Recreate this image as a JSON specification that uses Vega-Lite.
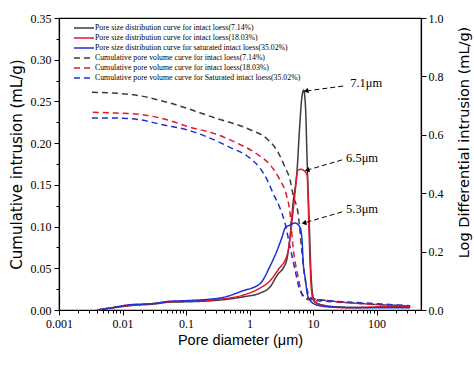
{
  "$schema": "https://vega.github.io/schema/vega-lite/v6.json",
  "width": 362,
  "height": 292,
  "autosize": {"type": "none"},
  "padding": {"left": 59, "top": 18, "right": 53, "bottom": 57},
  "background": "white",
  "config": {
    "view": {"stroke": "black", "strokeWidth": 1.2},
    "font": "Liberation Serif",
    "style": {"guide-label": {"font": "Liberation Serif", "fontSize": 12, "fill": "black"}},
    "axis": {
      "grid": false,
      "domainColor": "black",
      "domainWidth": 1.2,
      "tickColor": "black",
      "tickWidth": 1,
      "labelFont": "Liberation Serif",
      "labelFontSize": 12,
      "labelColor": "black",
      "titleFont": "Liberation Sans",
      "titleFontSize": 15,
      "titleFontWeight": "normal",
      "titleColor": "black",
      "labelOverlap": false,
      "labelFlush": false
    }
  },
  "datasets": {
    "cum": [
      {"series": "Cumulative pore volume curve for intact loess(7.14%)", "d": 0.0033, "v": 0.261},
      {"series": "Cumulative pore volume curve for intact loess(7.14%)", "d": 0.0146, "v": 0.258},
      {"series": "Cumulative pore volume curve for intact loess(7.14%)", "d": 0.056, "v": 0.248},
      {"series": "Cumulative pore volume curve for intact loess(7.14%)", "d": 0.266, "v": 0.231},
      {"series": "Cumulative pore volume curve for intact loess(7.14%)", "d": 1.02, "v": 0.216},
      {"series": "Cumulative pore volume curve for intact loess(7.14%)", "d": 1.89, "v": 0.205},
      {"series": "Cumulative pore volume curve for intact loess(7.14%)", "d": 2.81, "v": 0.189},
      {"series": "Cumulative pore volume curve for intact loess(7.14%)", "d": 3.62, "v": 0.171},
      {"series": "Cumulative pore volume curve for intact loess(7.14%)", "d": 4.34, "v": 0.156},
      {"series": "Cumulative pore volume curve for intact loess(7.14%)", "d": 4.84, "v": 0.138},
      {"series": "Cumulative pore volume curve for intact loess(7.14%)", "d": 5.8, "v": 0.116},
      {"series": "Cumulative pore volume curve for intact loess(7.14%)", "d": 6.97, "v": 0.056},
      {"series": "Cumulative pore volume curve for intact loess(7.14%)", "d": 8.05, "v": 0.024},
      {"series": "Cumulative pore volume curve for intact loess(7.14%)", "d": 9.6, "v": 0.014},
      {"series": "Cumulative pore volume curve for intact loess(7.14%)", "d": 18.5, "v": 0.011},
      {"series": "Cumulative pore volume curve for intact loess(7.14%)", "d": 79, "v": 0.007},
      {"series": "Cumulative pore volume curve for intact loess(7.14%)", "d": 337, "v": 0.005},

      {"series": "Cumulative pore volume curve for intact loess(18.03%)", "d": 0.0034, "v": 0.237},
      {"series": "Cumulative pore volume curve for intact loess(18.03%)", "d": 0.0082, "v": 0.236},
      {"series": "Cumulative pore volume curve for intact loess(18.03%)", "d": 0.021, "v": 0.234},
      {"series": "Cumulative pore volume curve for intact loess(18.03%)", "d": 0.05, "v": 0.228},
      {"series": "Cumulative pore volume curve for intact loess(18.03%)", "d": 0.116, "v": 0.219},
      {"series": "Cumulative pore volume curve for intact loess(18.03%)", "d": 0.266, "v": 0.212},
      {"series": "Cumulative pore volume curve for intact loess(18.03%)", "d": 0.635, "v": 0.2},
      {"series": "Cumulative pore volume curve for intact loess(18.03%)", "d": 1.31, "v": 0.187},
      {"series": "Cumulative pore volume curve for intact loess(18.03%)", "d": 2.1, "v": 0.174},
      {"series": "Cumulative pore volume curve for intact loess(18.03%)", "d": 3.0, "v": 0.156},
      {"series": "Cumulative pore volume curve for intact loess(18.03%)", "d": 3.8, "v": 0.138},
      {"series": "Cumulative pore volume curve for intact loess(18.03%)", "d": 4.34, "v": 0.116},
      {"series": "Cumulative pore volume curve for intact loess(18.03%)", "d": 4.84, "v": 0.0755},
      {"series": "Cumulative pore volume curve for intact loess(18.03%)", "d": 5.8, "v": 0.04},
      {"series": "Cumulative pore volume curve for intact loess(18.03%)", "d": 6.97, "v": 0.0156},
      {"series": "Cumulative pore volume curve for intact loess(18.03%)", "d": 8.9, "v": 0.012},
      {"series": "Cumulative pore volume curve for intact loess(18.03%)", "d": 18.5, "v": 0.01},
      {"series": "Cumulative pore volume curve for intact loess(18.03%)", "d": 79, "v": 0.007},
      {"series": "Cumulative pore volume curve for intact loess(18.03%)", "d": 337, "v": 0.005},

      {"series": "Cumulative pore volume curve for Saturated intact loess(35.02%)", "d": 0.0033, "v": 0.23},
      {"series": "Cumulative pore volume curve for Saturated intact loess(35.02%)", "d": 0.0091, "v": 0.23},
      {"series": "Cumulative pore volume curve for Saturated intact loess(35.02%)", "d": 0.0188, "v": 0.228},
      {"series": "Cumulative pore volume curve for Saturated intact loess(35.02%)", "d": 0.043, "v": 0.222},
      {"series": "Cumulative pore volume curve for Saturated intact loess(35.02%)", "d": 0.104, "v": 0.216},
      {"series": "Cumulative pore volume curve for Saturated intact loess(35.02%)", "d": 0.239, "v": 0.206},
      {"series": "Cumulative pore volume curve for Saturated intact loess(35.02%)", "d": 0.49, "v": 0.195},
      {"series": "Cumulative pore volume curve for Saturated intact loess(35.02%)", "d": 1.02, "v": 0.182},
      {"series": "Cumulative pore volume curve for Saturated intact loess(35.02%)", "d": 1.46, "v": 0.17},
      {"series": "Cumulative pore volume curve for Saturated intact loess(35.02%)", "d": 1.89, "v": 0.156},
      {"series": "Cumulative pore volume curve for Saturated intact loess(35.02%)", "d": 2.34, "v": 0.14},
      {"series": "Cumulative pore volume curve for Saturated intact loess(35.02%)", "d": 3.02, "v": 0.122},
      {"series": "Cumulative pore volume curve for Saturated intact loess(35.02%)", "d": 3.62, "v": 0.104},
      {"series": "Cumulative pore volume curve for Saturated intact loess(35.02%)", "d": 4.34, "v": 0.0755},
      {"series": "Cumulative pore volume curve for Saturated intact loess(35.02%)", "d": 5.2, "v": 0.048},
      {"series": "Cumulative pore volume curve for Saturated intact loess(35.02%)", "d": 6.2, "v": 0.024},
      {"series": "Cumulative pore volume curve for Saturated intact loess(35.02%)", "d": 8.05, "v": 0.014},
      {"series": "Cumulative pore volume curve for Saturated intact loess(35.02%)", "d": 18.5, "v": 0.011},
      {"series": "Cumulative pore volume curve for Saturated intact loess(35.02%)", "d": 79, "v": 0.008},
      {"series": "Cumulative pore volume curve for Saturated intact loess(35.02%)", "d": 337, "v": 0.005}
    ],
    "dist": [
      {"series": "Pore size distribution curve for intact loess(7.14%)", "d": 0.004, "v": 0.0},
      {"series": "Pore size distribution curve for intact loess(7.14%)", "d": 0.006, "v": 0.005},
      {"series": "Pore size distribution curve for intact loess(7.14%)", "d": 0.013, "v": 0.015},
      {"series": "Pore size distribution curve for intact loess(7.14%)", "d": 0.03, "v": 0.02},
      {"series": "Pore size distribution curve for intact loess(7.14%)", "d": 0.056, "v": 0.027},
      {"series": "Pore size distribution curve for intact loess(7.14%)", "d": 0.1, "v": 0.028},
      {"series": "Pore size distribution curve for intact loess(7.14%)", "d": 0.34, "v": 0.034},
      {"series": "Pore size distribution curve for intact loess(7.14%)", "d": 0.79, "v": 0.045},
      {"series": "Pore size distribution curve for intact loess(7.14%)", "d": 1.46, "v": 0.058},
      {"series": "Pore size distribution curve for intact loess(7.14%)", "d": 2.1, "v": 0.079},
      {"series": "Pore size distribution curve for intact loess(7.14%)", "d": 2.8, "v": 0.123},
      {"series": "Pore size distribution curve for intact loess(7.14%)", "d": 3.4, "v": 0.144},
      {"series": "Pore size distribution curve for intact loess(7.14%)", "d": 3.9, "v": 0.178},
      {"series": "Pore size distribution curve for intact loess(7.14%)", "d": 4.34, "v": 0.25},
      {"series": "Pore size distribution curve for intact loess(7.14%)", "d": 4.84, "v": 0.366},
      {"series": "Pore size distribution curve for intact loess(7.14%)", "d": 5.6, "v": 0.479},
      {"series": "Pore size distribution curve for intact loess(7.14%)", "d": 6.1, "v": 0.616},
      {"series": "Pore size distribution curve for intact loess(7.14%)", "d": 6.6, "v": 0.72},
      {"series": "Pore size distribution curve for intact loess(7.14%)", "d": 7.1, "v": 0.753},
      {"series": "Pore size distribution curve for intact loess(7.14%)", "d": 7.6, "v": 0.695},
      {"series": "Pore size distribution curve for intact loess(7.14%)", "d": 8.05, "v": 0.514},
      {"series": "Pore size distribution curve for intact loess(7.14%)", "d": 8.7, "v": 0.3},
      {"series": "Pore size distribution curve for intact loess(7.14%)", "d": 9.3, "v": 0.12},
      {"series": "Pore size distribution curve for intact loess(7.14%)", "d": 9.9, "v": 0.05},
      {"series": "Pore size distribution curve for intact loess(7.14%)", "d": 11, "v": 0.025},
      {"series": "Pore size distribution curve for intact loess(7.14%)", "d": 20, "v": 0.012},
      {"series": "Pore size distribution curve for intact loess(7.14%)", "d": 50, "v": 0.008},
      {"series": "Pore size distribution curve for intact loess(7.14%)", "d": 100, "v": 0.01},
      {"series": "Pore size distribution curve for intact loess(7.14%)", "d": 200, "v": 0.012},
      {"series": "Pore size distribution curve for intact loess(7.14%)", "d": 337, "v": 0.01},

      {"series": "Pore size distribution curve for intact loess(18.03%)", "d": 0.004, "v": 0.0},
      {"series": "Pore size distribution curve for intact loess(18.03%)", "d": 0.006, "v": 0.006},
      {"series": "Pore size distribution curve for intact loess(18.03%)", "d": 0.013, "v": 0.015},
      {"series": "Pore size distribution curve for intact loess(18.03%)", "d": 0.03, "v": 0.022},
      {"series": "Pore size distribution curve for intact loess(18.03%)", "d": 0.056, "v": 0.028},
      {"series": "Pore size distribution curve for intact loess(18.03%)", "d": 0.1, "v": 0.03},
      {"series": "Pore size distribution curve for intact loess(18.03%)", "d": 0.34, "v": 0.037},
      {"series": "Pore size distribution curve for intact loess(18.03%)", "d": 0.79, "v": 0.051},
      {"series": "Pore size distribution curve for intact loess(18.03%)", "d": 1.46, "v": 0.075},
      {"series": "Pore size distribution curve for intact loess(18.03%)", "d": 2.1, "v": 0.1},
      {"series": "Pore size distribution curve for intact loess(18.03%)", "d": 2.8, "v": 0.137},
      {"series": "Pore size distribution curve for intact loess(18.03%)", "d": 3.9, "v": 0.188},
      {"series": "Pore size distribution curve for intact loess(18.03%)", "d": 4.34, "v": 0.247},
      {"series": "Pore size distribution curve for intact loess(18.03%)", "d": 4.67, "v": 0.308},
      {"series": "Pore size distribution curve for intact loess(18.03%)", "d": 5.2, "v": 0.4},
      {"series": "Pore size distribution curve for intact loess(18.03%)", "d": 5.6, "v": 0.469},
      {"series": "Pore size distribution curve for intact loess(18.03%)", "d": 5.8, "v": 0.479},
      {"series": "Pore size distribution curve for intact loess(18.03%)", "d": 6.5, "v": 0.482},
      {"series": "Pore size distribution curve for intact loess(18.03%)", "d": 7.0, "v": 0.479},
      {"series": "Pore size distribution curve for intact loess(18.03%)", "d": 8.05, "v": 0.462},
      {"series": "Pore size distribution curve for intact loess(18.03%)", "d": 8.3, "v": 0.4},
      {"series": "Pore size distribution curve for intact loess(18.03%)", "d": 8.6, "v": 0.28},
      {"series": "Pore size distribution curve for intact loess(18.03%)", "d": 9.0, "v": 0.15},
      {"series": "Pore size distribution curve for intact loess(18.03%)", "d": 9.5, "v": 0.06},
      {"series": "Pore size distribution curve for intact loess(18.03%)", "d": 10.3, "v": 0.03},
      {"series": "Pore size distribution curve for intact loess(18.03%)", "d": 15, "v": 0.015},
      {"series": "Pore size distribution curve for intact loess(18.03%)", "d": 30, "v": 0.008},
      {"series": "Pore size distribution curve for intact loess(18.03%)", "d": 100, "v": 0.01},
      {"series": "Pore size distribution curve for intact loess(18.03%)", "d": 200, "v": 0.015},
      {"series": "Pore size distribution curve for intact loess(18.03%)", "d": 337, "v": 0.01},

      {"series": "Pore size distribution curve for saturated intact loess(35.02%)", "d": 0.004, "v": 0.0},
      {"series": "Pore size distribution curve for saturated intact loess(35.02%)", "d": 0.006, "v": 0.006},
      {"series": "Pore size distribution curve for saturated intact loess(35.02%)", "d": 0.013, "v": 0.018},
      {"series": "Pore size distribution curve for saturated intact loess(35.02%)", "d": 0.03, "v": 0.022},
      {"series": "Pore size distribution curve for saturated intact loess(35.02%)", "d": 0.056, "v": 0.03},
      {"series": "Pore size distribution curve for saturated intact loess(35.02%)", "d": 0.1, "v": 0.032},
      {"series": "Pore size distribution curve for saturated intact loess(35.02%)", "d": 0.34, "v": 0.041},
      {"series": "Pore size distribution curve for saturated intact loess(35.02%)", "d": 0.79, "v": 0.066},
      {"series": "Pore size distribution curve for saturated intact loess(35.02%)", "d": 1.46, "v": 0.09},
      {"series": "Pore size distribution curve for saturated intact loess(35.02%)", "d": 2.1, "v": 0.15},
      {"series": "Pore size distribution curve for saturated intact loess(35.02%)", "d": 2.67, "v": 0.2},
      {"series": "Pore size distribution curve for saturated intact loess(35.02%)", "d": 3.25, "v": 0.25},
      {"series": "Pore size distribution curve for saturated intact loess(35.02%)", "d": 3.62, "v": 0.28},
      {"series": "Pore size distribution curve for saturated intact loess(35.02%)", "d": 4.34, "v": 0.291},
      {"series": "Pore size distribution curve for saturated intact loess(35.02%)", "d": 5.2, "v": 0.298},
      {"series": "Pore size distribution curve for saturated intact loess(35.02%)", "d": 6.2, "v": 0.284},
      {"series": "Pore size distribution curve for saturated intact loess(35.02%)", "d": 6.7, "v": 0.24},
      {"series": "Pore size distribution curve for saturated intact loess(35.02%)", "d": 7.0, "v": 0.161},
      {"series": "Pore size distribution curve for saturated intact loess(35.02%)", "d": 7.6, "v": 0.103},
      {"series": "Pore size distribution curve for saturated intact loess(35.02%)", "d": 8.05, "v": 0.058},
      {"series": "Pore size distribution curve for saturated intact loess(35.02%)", "d": 8.9, "v": 0.034},
      {"series": "Pore size distribution curve for saturated intact loess(35.02%)", "d": 11.5, "v": 0.017},
      {"series": "Pore size distribution curve for saturated intact loess(35.02%)", "d": 20, "v": 0.01},
      {"series": "Pore size distribution curve for saturated intact loess(35.02%)", "d": 100, "v": 0.008},
      {"series": "Pore size distribution curve for saturated intact loess(35.02%)", "d": 337, "v": 0.008}
    ],
    "arrows": [
      {"x": 29.7, "y": 0.767, "x2": 7.76, "y2": 0.75},
      {"x": 28.6, "y": 0.514, "x2": 8.05, "y2": 0.479},
      {"x": 28.6, "y": 0.336, "x2": 7.2, "y2": 0.298}
    ],
    "labels": [
      {"lab": "7.1μm", "x": 38.3, "y": 0.777},
      {"lab": "6.5μm", "x": 33, "y": 0.52},
      {"lab": "5.3μm", "x": 33, "y": 0.346}
    ]
  },
  "layer": [
    {
      "data": {"name": "cum"},
      "mark": {"type": "line", "strokeWidth": 1.5, "interpolate": "monotone"},
      "encoding": {
        "x": {
          "field": "d", "type": "quantitative",
          "scale": {"type": "log", "domain": [0.001, 500], "nice": false},
          "axis": {
            "title": "Pore diameter (μm)",
            "values": [0.001,0.002,0.003,0.004,0.005,0.006,0.007,0.008,0.009,0.01,0.02,0.03,0.04,0.05,0.06,0.07,0.08,0.09,0.1,0.2,0.3,0.4,0.5,0.6,0.7,0.8,0.9,1,2,3,4,5,6,7,8,9,10,20,30,40,50,60,70,80,90,100,200,300,400],
            "labelExpr": "abs(log(datum.value)/LN10 - round(log(datum.value)/LN10)) < 0.001 ? format(datum.value, '~g') : ''",
            "tickSize": {"condition": {"test": "abs(log(datum.value)/LN10 - round(log(datum.value)/LN10)) < 0.001", "value": 5}, "value": 3},
            "labelFont": "Liberation Serif, serif",
            "titleFont": "Liberation Sans",
            "titleFontSize": 14.5,
            "labelPadding": 3,
            "titlePadding": 4
          }
        },
        "y": {
          "field": "v", "type": "quantitative",
          "scale": {"domain": [0, 0.35], "nice": false},
          "axis": {
            "orient": "left",
            "title": "Cumulative intrusion (mL/g)",
            "values": [0,0.025,0.05,0.075,0.1,0.125,0.15,0.175,0.2,0.225,0.25,0.275,0.3,0.325,0.35],
            "labelExpr": "round(datum.value*1000) % 50 == 0 ? format(datum.value, '.2f') : ''",
            "tickSize": {"condition": {"test": "round(datum.value*1000) % 50 == 0", "value": 5}, "value": 3},
            "labelFont": "Liberation Serif, serif",
            "titleFont": "DejaVu Sans",
            "titleFontSize": 15,
            "labelPadding": 3,
            "titlePadding": 6
          }
        },
        "color": {
          "field": "series", "type": "nominal",
          "scale": {
            "domain": [
              "Pore size distribution curve for intact loess(7.14%)",
              "Pore size distribution curve for intact loess(18.03%)",
              "Pore size distribution curve for saturated intact loess(35.02%)",
              "Cumulative pore volume curve for intact loess(7.14%)",
              "Cumulative pore volume curve for intact loess(18.03%)",
              "Cumulative pore volume curve for Saturated intact loess(35.02%)"
            ],
            "range": ["#3c3c3c", "#e3172d", "#1e2fd4", "#3c3c3c", "#e3172d", "#1e2fd4"]
          },
          "legend": {
            "title": null, "orient": "none", "legendX": 19, "legendY": 4,
            "symbolType": "M-2,0L2,0", "symbolSize": 100, "symbolStrokeWidth": 1.5,
            "labelFont": "Liberation Serif", "labelFontSize": 7.8, "labelColor": "black",
            "labelLimit": 400, "rowPadding": 0, "labelOffset": 5, "padding": 0
          }
        },
        "strokeDash": {
          "field": "series", "type": "nominal",
          "scale": {
            "domain": [
              "Pore size distribution curve for intact loess(7.14%)",
              "Pore size distribution curve for intact loess(18.03%)",
              "Pore size distribution curve for saturated intact loess(35.02%)",
              "Cumulative pore volume curve for intact loess(7.14%)",
              "Cumulative pore volume curve for intact loess(18.03%)",
              "Cumulative pore volume curve for Saturated intact loess(35.02%)"
            ],
            "range": [[1, 0], [1, 0], [1, 0], [6, 4], [6, 4], [6, 4]]
          },
          "legend": {
            "title": null, "orient": "none", "legendX": 19, "legendY": 4,
            "symbolType": "M-2,0L2,0", "symbolSize": 100, "symbolStrokeWidth": 1.5,
            "labelFont": "Liberation Serif", "labelFontSize": 7.8, "labelColor": "black",
            "labelLimit": 400, "rowPadding": 0, "labelOffset": 5, "padding": 0
          }
        }
      }
    },
    {
      "layer": [
        {
          "data": {"name": "dist"},
          "mark": {"type": "line", "strokeWidth": 1.5, "interpolate": "monotone"},
          "encoding": {
            "x": {"field": "d", "type": "quantitative", "scale": {"type": "log", "domain": [0.001, 500], "nice": false}},
            "y": {
              "field": "v", "type": "quantitative",
              "scale": {"domain": [0, 1], "nice": false},
              "axis": {
                "orient": "right",
                "title": "Log Differential intrusion (mL/g)",
                "titleAngle": 270,
                "titleY": 124,
                "values": [0,0.1,0.2,0.3,0.4,0.5,0.6,0.7,0.8,0.9,1.0],
                "labelExpr": "round(datum.value*10) % 2 == 0 ? format(datum.value, '.1f') : ''",
                "tickSize": {"condition": {"test": "round(datum.value*10) % 2 == 0", "value": 5}, "value": 3},
                "labelFont": "Liberation Serif, serif",
                "titleFont": "DejaVu Sans",
                "titleFontSize": 14.5,
                "labelPadding": 2,
                "titlePadding": 28
              }
            },
            "color": {"field": "series", "type": "nominal"},
            "strokeDash": {"field": "series", "type": "nominal"}
          }
        },
        {
          "data": {"name": "arrows"},
          "mark": {"type": "rule", "color": "black", "strokeWidth": 1, "strokeDash": [5, 3]},
          "encoding": {
            "x": {"field": "x", "type": "quantitative"},
            "y": {"field": "y", "type": "quantitative"},
            "x2": {"field": "x2"},
            "y2": {"field": "y2"}
          }
        },
        {
          "data": {"name": "arrows"},
          "mark": {"type": "point", "shape": "triangle-left", "filled": true, "color": "black", "size": 30, "angle": 348, "opacity": 1},
          "encoding": {
            "x": {"field": "x2", "type": "quantitative"},
            "y": {"field": "y2", "type": "quantitative"}
          }
        },
        {
          "data": {"name": "labels"},
          "mark": {"type": "text", "align": "left", "baseline": "middle", "font": "Liberation Serif", "fontSize": 12.5, "color": "black"},
          "encoding": {
            "x": {"field": "x", "type": "quantitative"},
            "y": {"field": "y", "type": "quantitative"},
            "text": {"field": "lab"}
          }
        }
      ]
    }
  ],
  "resolve": {"scale": {"y": "independent"}}
}
